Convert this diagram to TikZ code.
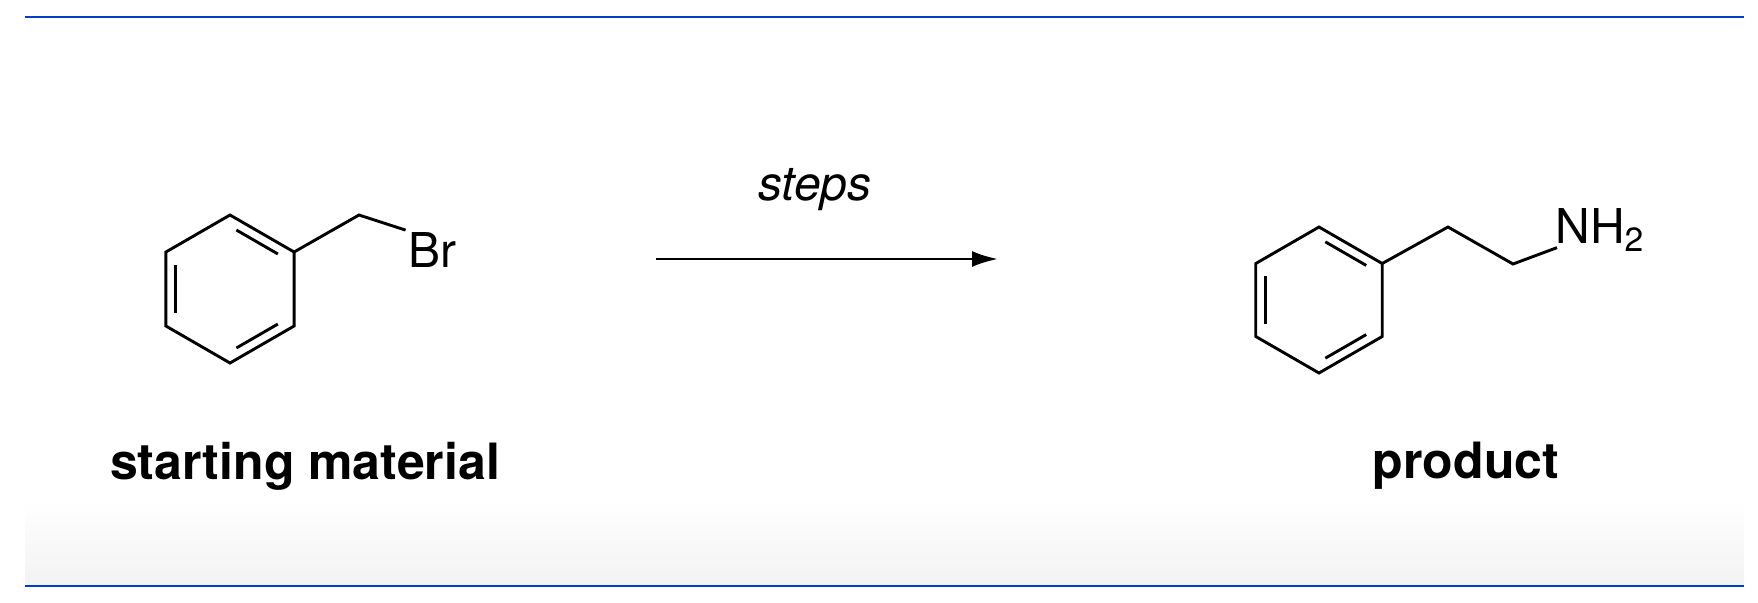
\documentclass[tikz,border=0pt]{standalone}
\usepackage{fontspec}
\setmainfont{TeX Gyre Heros}
\usetikzlibrary{calc,arrows.meta}
\begin{document}
\begin{tikzpicture}[x=0.5pt,y=-0.5pt,bond/.style={line width=1.45pt,line join=miter},
 lbl/.style={font=\bfseries\fontsize{25}{30}\selectfont,inner sep=0},
 atom/.style={font=\fontsize{24}{28}\selectfont,inner sep=1pt}]
\useasboundingbox (0,0) rectangle (1758,602);
\shade[top color=white,bottom color=black!5] (25,500) rectangle (1744,586);
\draw[blue!70!cyan!80!black,line width=0.9pt] (25,17) -- (1744,17);
\draw[blue!70!cyan!80!black,line width=0.9pt] (25,586) -- (1744,586);
% left molecule
\foreach \n/\a in {1/90,2/30,3/-30,4/-90,5/-150,6/150}{
 \coordinate (L\n) at ($(230,289)+(\a:74 and -74)$);}
\coordinate (Lc) at (230,289);
\draw[bond] (L1)--(L2)--(L3)--(L4)--(L5)--(L6)--cycle;
\coordinate (CH) at (359,215);
\node[atom] (Br) at (432,250) {Br};
\draw[bond] (L2)--(CH)--(Br.north west);
% right molecule
\foreach \n/\a in {1/90,2/30,3/-30,4/-90,5/-150,6/150}{
 \coordinate (R\n) at ($(1319,300)+(\a:73 and -73)$);}
\coordinate (Rc) at (1319,300);
\draw[bond] (R1)--(R2)--(R3)--(R4)--(R5)--(R6)--cycle;
\coordinate (C1) at (1448,227);
\coordinate (C2) at (1513,264);
\node[atom,anchor=west] (N) at (1553,230) {NH\textsubscript{2}};
\draw[bond] (R2)--(C1)--(C2)--($(N.south west)+(4,-6)$);
% inner double bonds
\foreach \P/\c in {L/Lc,R/Rc}{
 \foreach \a/\b in {1/2,3/4,5/6}{
  \draw[bond] ($(\P\a)!0.17!(\c)!0.1!(\P\b)$) -- ($(\P\b)!0.17!(\c)!0.1!(\P\a)$);}}
% arrow
\coordinate (A1) at (656,259);
\coordinate (A2) at (998,259);
\draw[line width=1.3pt,-{Latex[length=13pt,width=8pt]}] (A1)--(A2);
\node[font=\itshape\fontsize{24}{28}\selectfont] (st) at (815,190) {steps};
\node[lbl] (sm) at (305,466) {starting material};
\node[lbl] (pr) at (1466,466) {product};
\end{tikzpicture}
\end{document}
